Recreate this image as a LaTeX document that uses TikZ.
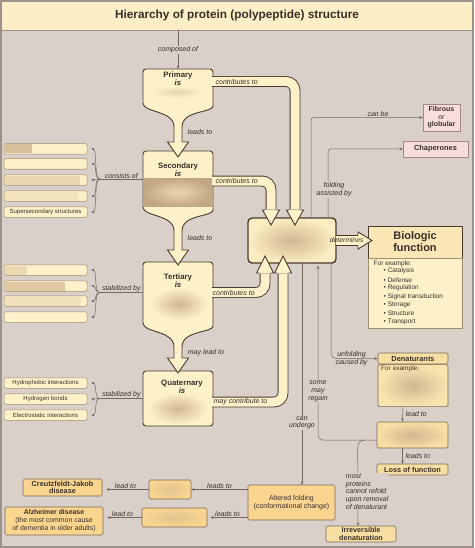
\documentclass[tikz,border=0pt]{standalone}
\usepackage{fontspec}
\setmainfont{Liberation Sans}
\usetikzlibrary{arrows.meta}

\definecolor{bg}{HTML}{D9D0C9}
\definecolor{border}{HTML}{9C928B}
\definecolor{titlebar}{HTML}{FCEFC8}
\definecolor{paper}{HTML}{FDF1CA}
\definecolor{ink}{HTML}{3A2E28}
\definecolor{rim}{HTML}{4A3A30}
\definecolor{wire}{HTML}{75685F}
\definecolor{linen}{HTML}{A38D72}
\definecolor{amber}{HTML}{F9D590}
\definecolor{sand}{HTML}{F7DFA4}
\definecolor{tan}{HTML}{D2B691}
\definecolor{blush}{HTML}{F7DEDC}
\definecolor{blushline}{HTML}{A98682}

\tikzset{
    lbl/.style={font=\fontsize{7}{7.8}\selectfont\itshape, text=ink, inner sep=0.8pt, align=center},
    bandlbl/.style={font=\fontsize{7}{8}\selectfont\itshape, text=ink, inner sep=1pt},
    conn/.style={draw=wire, line width=0.5pt, -{Stealth[length=3.2pt, width=2.8pt]}},
    wireline/.style={draw=wire, line width=0.5pt},
    band/.style={draw=rim, line width=0.9pt, double=paper, double distance=9pt, rounded corners=9pt},
    blockhead/.style={fill=paper, draw=rim, line width=0.9pt, line join=miter},
    funnel/.style={fill=paper, draw=rim, line width=0.9pt},
    tier/.style={minimum width=70pt, inner sep=0pt},
    heading/.style={font=\fontsize{7.8}{7}\selectfont\bfseries, text=ink, align=center, anchor=north, inner sep=0pt},
    sidebox/.style={draw=linen, fill=paper, rounded corners=1.5pt, line width=0.5pt, minimum width=83pt, minimum height=10.5pt, inner sep=0pt, font=\fontsize{6}{7}\selectfont, text=ink},
    plate/.style={draw=linen!75!black, line width=0.6pt, rounded corners=1.5pt, inner sep=0pt, align=center, text=ink},
    pinkbox/.style={draw=blushline, fill=blush, line width=0.6pt, inner sep=0pt, align=center, text=ink},
    listitem/.style={font=\fontsize{6.5}{7}\selectfont, text=ink, inner sep=0pt, anchor=west},
}

\begin{document}
\begin{tikzpicture}[x=1pt, y=-1pt]
    % Background:
    \useasboundingbox (0,0) rectangle (474,548);
    \fill[bg] (0,0) rectangle (474,548);
    \draw[border, line width=1.5pt] (1,1) rectangle (473,547);
    \node[draw=border, fill=titlebar, line width=0.8pt, minimum width=471pt, minimum height=29pt, inner sep=0pt,
          font=\fontsize{11.8}{13}\selectfont\bfseries, text=ink] (title) at (237,15.5) {Hierarchy of protein (polypeptide) structure};

    % Levels of structure:
    \draw[funnel, rounded corners=3pt] (143,371) rectangle (213,426);
    \foreach \top/\bot/\base in {262/323/358, 151/207/250, 69/103/142}
        \draw[funnel, rounded corners=3pt] (178,\top) -- (213,\top) -- (213,\bot) [sharp corners]
            .. controls (213,\bot+10) and (182,\bot+7) .. (182,\bot+24) -- (182,\base) -- (188.5,\base)
            -- (178,\base+15) -- (167.5,\base) -- (174,\base) -- (174,\bot+24)
            .. controls (174,\bot+7) and (143,\bot+10) .. (143,\bot) [rounded corners=3pt] -- (143,\top) -- cycle;

    % Hidden answers:
    \shade[inner color=tan!50!paper, outer color=paper] (152,86) rectangle (204,98);
    \shade[inner color=tan!45!paper, outer color=tan!88!rim] (143.5,178) rectangle (212.5,206.5);
    \shade[inner color=tan, outer color=paper] (150,288) rectangle (208,320);
    \shade[inner color=tan, outer color=paper] (148,393) rectangle (208,424);

    \node[tier, minimum height=34pt] (primary) at (178,86) {};
    \node[tier, minimum height=56pt] (secondary) at (178,179) {};
    \node[tier, minimum height=61pt] (tertiary) at (178,292.5) {};
    \node[tier, minimum height=55pt] (quaternary) at (178,398.5) {};
    \node[heading] (primaryhead) at ([yshift=-3pt]primary.north) {Primary\\\textit{is}};
    \node[heading] (secondaryhead) at ([yshift=-12pt]secondary.north) {Secondary\\\textit{is}};
    \node[heading] (tertiaryhead) at ([yshift=-12pt]tertiary.north) {Tertiary\\\textit{is}};
    \node[heading] (quaternaryhead) at ([xshift=4pt, yshift=-9pt]quaternary.north) {Quaternary\\\textit{is}};

    \node[lbl] (lead1) at (200,132) {leads to};
    \node[lbl] (lead2) at (200,238) {leads to};
    \node[lbl] (lead3) at (206,353) {may lead to};

    % Side boxes:
    \foreach \y [count=\i] in {149, 164, 180, 196}
        \node[sidebox] (s\i) at (45.5,\y) {};
    \node[sidebox] (s5) at (45.5,212) {Supersecondary structures};
    \foreach \y [count=\i] in {270, 286, 301, 317}
        \node[sidebox] (t\i) at (45.5,\y) {};
    \foreach \y/\txt [count=\i] in {383/Hydrophobic interactions, 399/Hydrogen bonds, 415/Electrostatic interactions}
        \node[sidebox] (q\i) at (45.5,\y) {\txt};
    \foreach \y/\w/\c in {149/32/85, 180/80/45, 196/78/22, 270/27/40, 286/65/70, 301/81/25}
        \fill[tan!\c!paper] (4.8,\y-4.5) rectangle (\w,\y+4.5);

    % Braces:
    \coordinate (sj) at ([xshift=-43pt]secondary.west);
    \coordinate (tj) at ([xshift=-43pt]tertiary.west);
    \coordinate (qj) at ([xshift=-43pt]quaternary.west);
    \draw[wireline] (secondary.west) -- node[lbl, above, inner sep=0.5pt] {consists of} (sj);
    \draw[wireline] (tertiary.west) -- node[lbl, above, inner sep=0.5pt] {stabilized by} (tj);
    \draw[wireline] (quaternary.west) -- node[lbl, above, inner sep=0.5pt] {stabilized by} (qj);
    \foreach \i in {1,...,5}
        \draw[conn] (sj) .. controls +(-6,0) and +(6,0) .. ([xshift=4pt]s\i.east);
    \foreach \i in {1,...,4}
        \draw[conn] (tj) .. controls +(-6,0) and +(6,0) .. ([xshift=4pt]t\i.east);
    \foreach \i in {1,...,3}
        \draw[conn] (qj) .. controls +(-6,0) and +(6,0) .. ([xshift=4pt]q\i.east);

    % Native protein:
    \node[draw=rim, line width=1.4pt, rounded corners=4pt, inner color=tan, outer color=paper!80!sand,
          minimum width=88pt, minimum height=45pt] (core) at (292,240.5) {};

    % Contribution bands:
    \draw[band] ([xshift=-1pt, yshift=4.5pt]primary.east) node[bandlbl, right=2pt] {contributes to}
        -| ([xshift=3pt, yshift=8pt]core.north);
    \draw[band] ([xshift=-1pt, yshift=-2pt]secondary.east) node[bandlbl, right=2pt] {contributes to}
        -| ([xshift=-21pt, yshift=8pt]core.north);
    \draw[band] ([xshift=-1pt]tertiary.east) node[bandlbl, right=-1pt] {contributes to}
        -| ([xshift=-27pt, yshift=-10pt]core.south);
    \draw[band] ([xshift=-1pt, yshift=-3.5pt]quaternary.east) node[bandlbl, right=0pt] {may contribute to}
        -| ([xshift=-9pt, yshift=-10pt]core.south);
    \foreach \x in {271, 295}
        \draw[blockhead] (\x-5.4,210) -- (\x-8.5,210) -- (\x,225) -- (\x+8.5,210) -- (\x+5.4,210);
    \foreach \x in {265, 283}
        \draw[blockhead] (\x-5.4,273) -- (\x-8.5,273) -- (\x,256) -- (\x+8.5,273) -- (\x+5.4,273);

    % Biologic function:
    \node[draw=rim, fill=sand!55!paper, line width=0.9pt, minimum width=94pt, minimum height=32pt, inner sep=0pt,
          font=\fontsize{11}{12}\selectfont\bfseries, text=ink, align=center] (biologic) at (415,242) {Biologic\\function};
    \node[draw=linen, fill=paper, line width=0.6pt, minimum width=94pt, minimum height=70pt, anchor=north] (examples) at (biologic.south) {};
    \node[listitem] (ex0) at (373.5,264) {For example:};
    \foreach \fn [count=\i] in {Catalysis, Defense, Regulation, Signal transduction, Storage, Structure, Transport}
        \node[listitem] (ex\i) at (383.5,262.8+8.45*\i) {\textbullet\ \fn};
    \coordinate (dethead) at ([xshift=-10pt]biologic.west);
    \draw[blockhead] (358,235.1) -- (358,232) -- (372,240.5) -- (358,249) -- (358,245.9);
    \draw[band] ([xshift=-1pt]core.east) -- node[bandlbl, font=\fontsize{6.8}{8}\selectfont\itshape] {determines} (dethead |- core.east);

    % Fibrous and chaperones:
    \node[pinkbox, minimum width=37pt, minimum height=27pt, font=\fontsize{7}{7.6}\selectfont] (fibrous) at (441.5,117.5)
        {\textbf{Fibrous}\\\textit{or}\\\textbf{globular}};
    \node[pinkbox, minimum width=65pt, minimum height=16pt, font=\fontsize{7.4}{8}\selectfont\bfseries] (chaperones) at (435.5,149) {Chaperones};
    \draw[conn, rounded corners=3pt] (core.north -| 311,0) |- node[lbl, above, pos=0.8] {can be} (fibrous.west);
    \draw[conn, rounded corners=3pt] (core.north -| 328,0) |- node[lbl, fill=bg, pos=0.2, xshift=6pt] {folding\\assisted by} (chaperones.west);

    % Denaturation:
    \node[plate, fill=sand, minimum width=70pt, minimum height=11pt, font=\fontsize{7.4}{8}\selectfont\bfseries] (denaturants) at (413,358.5) {Denaturants};
    \node[plate, inner color=tan, outer color=sand!70!paper, minimum width=70pt, minimum height=42pt, anchor=north] (denatbody) at (denaturants.south) {};
    \node[listitem] (denatex) at (381,368.5) {For example:};
    \node[plate, inner color=tan, outer color=sand, minimum width=71pt, minimum height=26pt] (denatured) at (412.5,435) {};
    \node[plate, fill=sand, minimum width=71pt, minimum height=11pt, font=\fontsize{7.3}{8}\selectfont\bfseries] (loss) at (412.5,469.5) {Loss of function};
    \node[plate, fill=sand, minimum width=70pt, minimum height=16pt, font=\fontsize{7.2}{7.5}\selectfont\bfseries] (irreversible) at (361,534) {Irreversible\\denaturation};

    \draw[conn, rounded corners=5pt] (core.south -| 331,0) |- node[lbl, above, pos=0.72] {unfolding} node[lbl, below, pos=0.72] {caused by} (denaturants.west);
    \draw[conn] ([xshift=-10pt]denatbody.south) -- node[lbl, right=2pt] {lead to} ([xshift=-10pt]denatured.north);
    \draw[conn] ([xshift=-10pt]denatured.south) -- node[lbl, right=2pt] {leads to} ([xshift=-10pt]loss.north);
    \coordinate (regain) at ([xshift=26pt, yshift=-2pt]core.south);
    \draw[conn, rounded corners=5pt] ([yshift=-5pt]denatured.west) -| node[lbl, fill=bg, pos=0.64] {some\\may\\regain} (regain);
    \coordinate (fork) at ([xshift=-11pt, yshift=-5pt]denatured.west);
    \draw[conn] (fork) .. controls +(-7,0) and +(0,-6) .. ([xshift=-8pt, yshift=-10pt]fork)
        -- node[lbl, fill=bg, align=left, anchor=west, xshift=-13pt, pos=0.55] {most\\proteins\\cannot refold\\upon removal\\of denaturant} ([xshift=-3pt]irreversible.north);

    % Altered folding and diseases:
    \node[plate, fill=amber, minimum width=87pt, minimum height=35pt, font=\fontsize{7}{8}\selectfont] (altered) at (291.5,502.5) {Altered folding\\(conformational change)};
    \node[plate, inner color=tan!60!amber, outer color=amber, minimum width=42pt, minimum height=19pt] (prion) at (170,489.5) {};
    \node[plate, inner color=tan!60!amber, outer color=amber, minimum width=65pt, minimum height=19pt] (amyloid) at (174.5,517.5) {};
    \node[plate, fill=amber, minimum width=79pt, minimum height=17pt, font=\fontsize{7.3}{7.4}\selectfont\bfseries] (cjd) at (62.5,487.5) {Creutzfeldt-Jakob\\disease};
    \node[plate, fill=amber, minimum width=98pt, minimum height=28pt, font=\fontsize{6.9}{8}\selectfont] (alzheimer) at (54,521)
        {\textbf{Alzheimer disease}\\(the most common cause\\of dementia in older adults)};

    \draw[conn] (core.south -| 302,0) -- node[lbl, fill=bg, pos=0.72] {can\\undergo} (altered.north -| 302,0);
    \draw[conn] (altered.west |- prion.east) -- node[lbl, above] {leads to} (prion.east);
    \draw[conn, shorten >=4pt] (prion.west) -- node[lbl, above] {lead to} (prion.west -| cjd.east);
    \draw[conn, shorten >=3pt] (altered.west |- amyloid.east) -- node[lbl, above] {leads to} (amyloid.east);
    \draw[conn, shorten >=4pt] (amyloid.west) -- node[lbl, above] {lead to} (amyloid.west -| alzheimer.east);

    % Composed of:
    \draw[conn] (title.south -| primary.north) -- node[lbl, fill=bg] {composed of} (primary.north);
\end{tikzpicture}
\end{document}
